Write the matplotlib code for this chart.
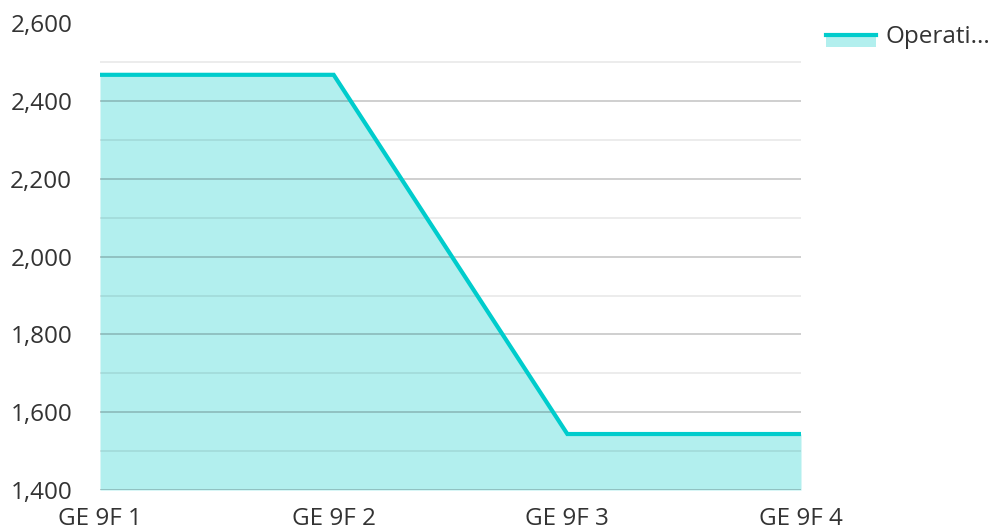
import matplotlib.pyplot as plt
from matplotlib.patches import Rectangle
from matplotlib.lines import Line2D
from matplotlib.ticker import FuncFormatter, MultipleLocator

plt.rcParams['font.family'] = ['Open Sans', 'DejaVu Sans']

units = ['GE 9F 1', 'GE 9F 2', 'GE 9F 3', 'GE 9F 4']
operating = [2468, 2468, 1544, 1544]
series_name = 'Operati...'

line_col = '#00CCCC'
fill_col = '#B2EFEE'
text_col = '#333333'

W, H = 995, 531
fig = plt.figure(figsize=(W / 100, H / 100), dpi=100)
ax = fig.add_axes([100 / W, 1 - 490 / H, 701 / W, (490 - 23.5) / H])

x = list(range(len(units)))
ax.fill_between(x, 1400, operating, color=fill_col, lw=0, zorder=1)
ax.plot(x, operating, color=line_col, lw=3, zorder=3, solid_joinstyle='miter')

ax.set_xlim(0, len(units) - 1)
ax.set_ylim(1400, 2600)
ax.yaxis.set_major_locator(MultipleLocator(200))
ax.yaxis.set_minor_locator(MultipleLocator(100))
ax.yaxis.set_major_formatter(FuncFormatter(lambda v, p: f'{int(v):,}'))
ax.set_xticks(x)
ax.set_xticklabels(units)

ax.grid(axis='y', which='major', color='#000000', alpha=0.22, lw=1.2, zorder=2)
ax.grid(axis='y', which='minor', color='#000000', alpha=0.09, lw=1.2, zorder=2)
ax.set_axisbelow(False)
for s in ax.spines.values():
    s.set_visible(False)
ax.tick_params(axis='both', which='both', length=0, labelsize=17.5, colors=text_col)
ax.tick_params(axis='y', pad=20)
ax.tick_params(axis='x', pad=12)

# legend
fig.add_artist(Rectangle((826 / W, 1 - 47 / H), 50 / W, 11 / H, color=fill_col,
                         transform=fig.transFigure, lw=0))
fig.add_artist(Line2D([826 / W, 876 / W], [1 - 35 / H, 1 - 35 / H], color=line_col,
                      lw=3, transform=fig.transFigure))
fig.text(886 / W, 1 - 37 / H, series_name, fontsize=17.5, color=text_col, va='center')

fig.savefig('out.png', dpi=100)
